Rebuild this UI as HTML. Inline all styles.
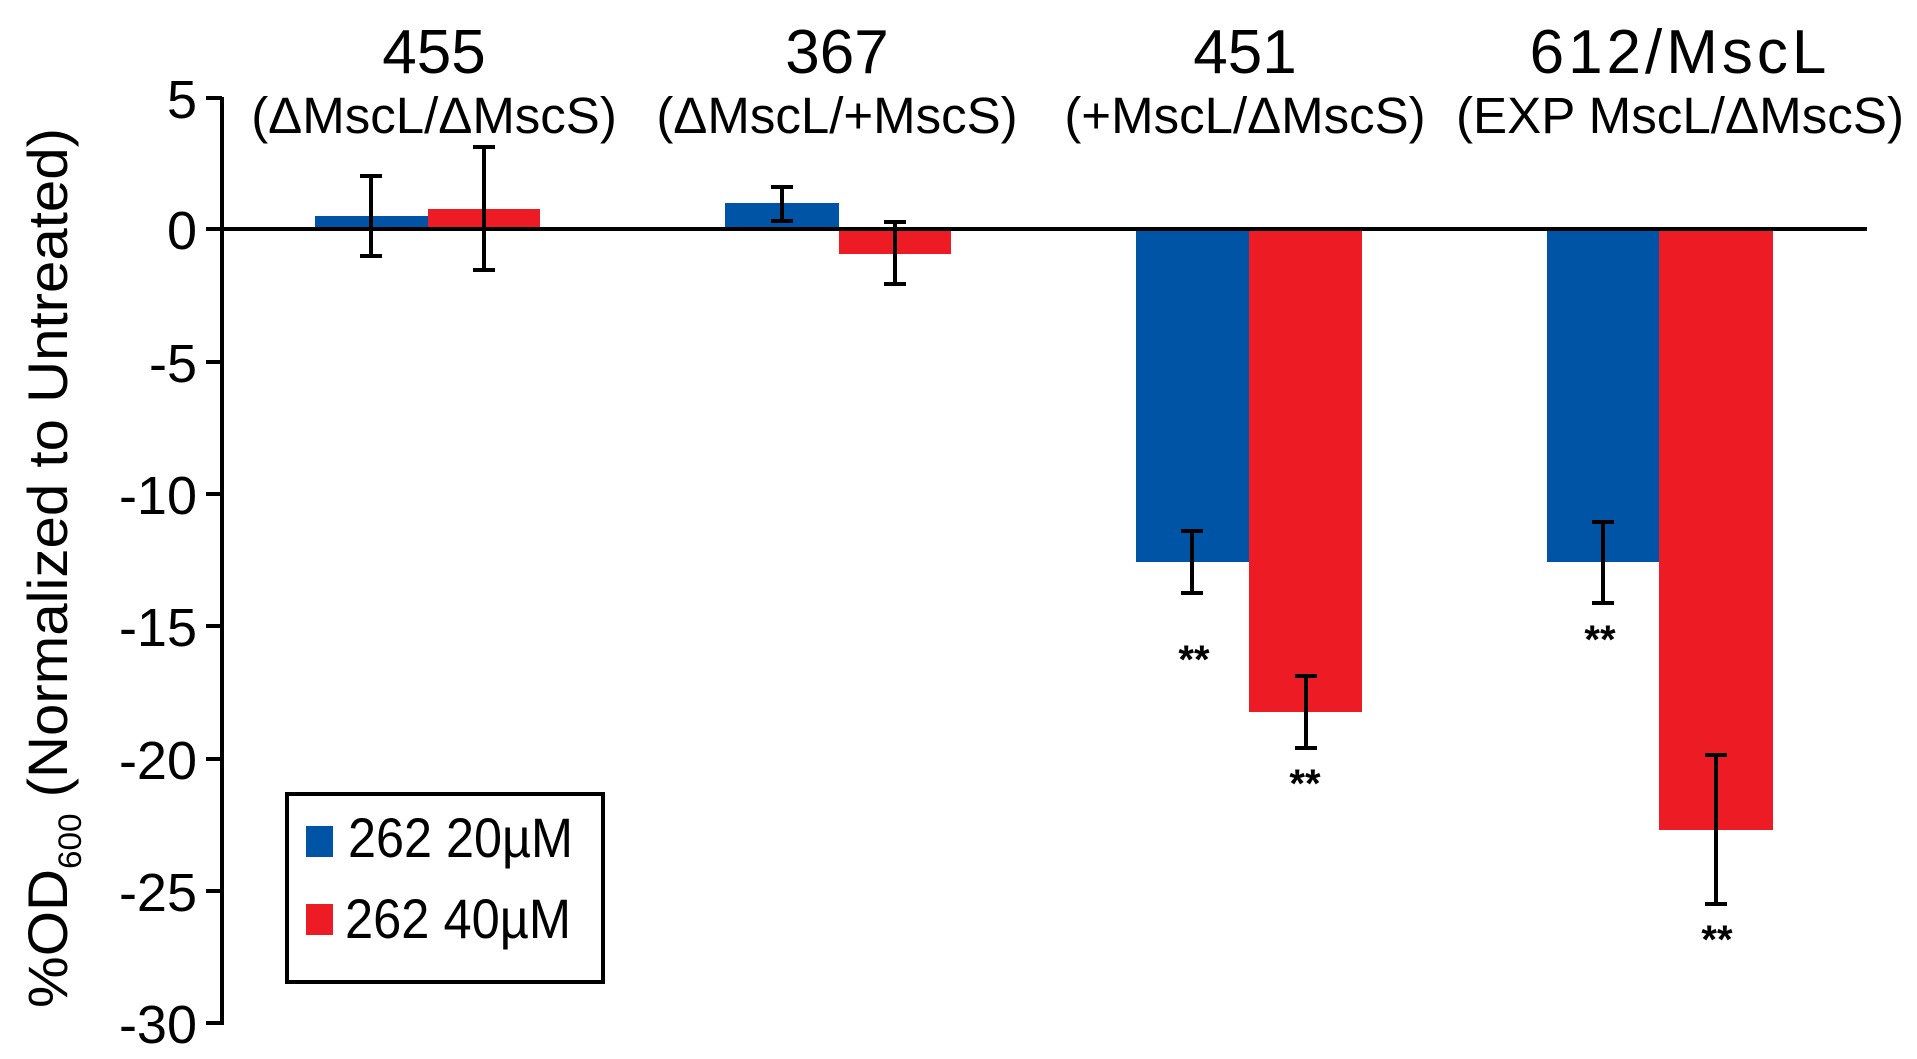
<!DOCTYPE html>
<html><head><meta charset="utf-8"><style>
html,body{margin:0;padding:0;background:#fff;}
svg{display:block;font-family:"Liberation Sans",Arial,sans-serif;}
</style></head><body>
<svg width="1917" height="1059" viewBox="0 0 1917 1059" xmlns="http://www.w3.org/2000/svg">
<!-- bars -->
<g>
<rect x="315" y="216" width="113" height="13" fill="#0054a6"/>
<rect x="428" y="209" width="112" height="20" fill="#ed1c24"/>
<rect x="725" y="203" width="114" height="26" fill="#0054a6"/>
<rect x="839" y="229" width="112" height="25" fill="#ed1c24"/>
<rect x="1136" y="229" width="113" height="333" fill="#0054a6"/>
<rect x="1249" y="229" width="113" height="483" fill="#ed1c24"/>
<rect x="1547" y="229" width="112" height="333" fill="#0054a6"/>
<rect x="1659" y="229" width="114" height="601" fill="#ed1c24"/>
</g>
<!-- axes -->
<line x1="222" y1="97" x2="222" y2="1025" stroke="#000" stroke-width="4"/>
<line x1="206" y1="229" x2="1867" y2="229" stroke="#000" stroke-width="4"/>
<g stroke="#000" stroke-width="4">
<line x1="206" y1="98" x2="222" y2="98"/>
<line x1="206" y1="362" x2="222" y2="362"/>
<line x1="206" y1="494" x2="222" y2="494"/>
<line x1="206" y1="626" x2="222" y2="626"/>
<line x1="206" y1="759" x2="222" y2="759"/>
<line x1="206" y1="891" x2="222" y2="891"/>
<line x1="206" y1="1023" x2="222" y2="1023"/>
</g>
<g font-size="54" text-anchor="end" fill="#000">
<text x="197" y="118">5</text>
<text x="197" y="249">0</text>
<text x="197" y="382">-5</text>
<text x="197" y="514">-10</text>
<text x="197" y="646">-15</text>
<text x="197" y="779">-20</text>
<text x="197" y="911">-25</text>
<text x="197" y="1043">-30</text>
</g>
<!-- error bars -->
<g stroke="#000" stroke-width="4" fill="none">
<path d="M371 176V256M360 176H382M360 256H382"/>
<path d="M484 147V270M473 147H495M473 270H495"/>
<path d="M782 187V221M771 187H793M771 221H793"/>
<path d="M895 222V284M884 222H906M884 284H906"/>
<path d="M1192 531V593M1181 531H1203M1181 593H1203"/>
<path d="M1306 676V748M1295 676H1317M1295 748H1317"/>
<path d="M1603 522V603M1592 522H1614M1592 603H1614"/>
<path d="M1716 755V904M1705 755H1727M1705 904H1727"/>
</g>
<g font-size="40" font-weight="bold" text-anchor="middle" fill="#000">
<text x="1194" y="673">**</text>
<text x="1305" y="797">**</text>
<text x="1600" y="653">**</text>
<text x="1717" y="953">**</text>
</g>
<!-- titles -->
<g text-anchor="middle" fill="#000">
<text x="434" y="73" font-size="62">455</text>
<text x="434" y="133" font-size="51">(ΔMscL/ΔMscS)</text>
<text x="837" y="73" font-size="62">367</text>
<text x="837" y="133" font-size="51">(ΔMscL/+MscS)</text>
<text x="1245" y="73" font-size="62">451</text>
<text x="1245" y="133" font-size="51">(+MscL/ΔMscS)</text>
<text x="1680" y="73" font-size="62" letter-spacing="4">612/MscL</text>
<text x="1680" y="133" font-size="51" textLength="448" lengthAdjust="spacingAndGlyphs">(EXP MscL/ΔMscS)</text>
</g>
<!-- legend -->
<rect x="287" y="794" width="316" height="188" fill="#fff" stroke="#000" stroke-width="4"/>
<rect x="306" y="826" width="27" height="31" fill="#0054a6"/>
<rect x="306" y="904" width="27" height="31" fill="#ed1c24"/>
<g font-size="56" fill="#000">
<text x="348" y="857" textLength="225" lengthAdjust="spacingAndGlyphs">262 20µM</text>
<text x="345" y="938" textLength="226" lengthAdjust="spacingAndGlyphs">262 40µM</text>
</g>
<!-- y title -->
<text transform="translate(67,1008) rotate(-90)" font-size="56" fill="#000" textLength="880" lengthAdjust="spacingAndGlyphs">%OD<tspan font-size="32" dy="14">600</tspan><tspan dy="-14"> (Normalized to Untreated)</tspan></text>
</svg>
</body></html>
